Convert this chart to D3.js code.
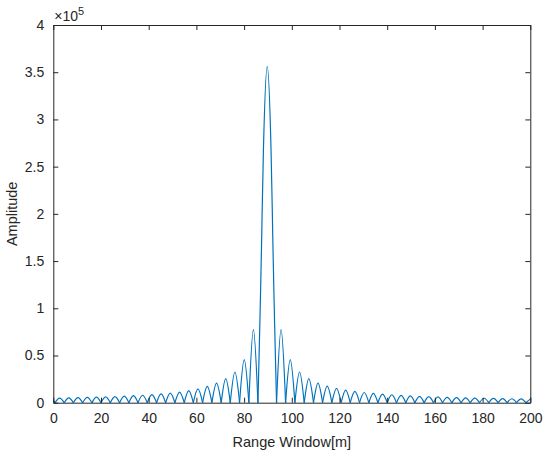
<!DOCTYPE html>
<html lang="en">
<head>
<meta charset="UTF-8">
<title>Range profile</title>
<script src="https://cdn.jsdelivr.net/npm/d3@7"></script>
<style>
    body { margin: 0; background: #fff; }
    text { font-family: "Liberation Sans", Arial, sans-serif; fill: #262626; }
</style>
</head>
<body>
<script>

    var width = 550;
    var height = 456;

    // zero crossings of the range profile [m]
    var nullsX = [0.7, 4.6, 8.4, 12.3, 16.2, 20.0, 23.9, 27.8, 31.7, 35.5, 39.4, 43.3,
        47.1, 51.0, 54.9, 58.7, 62.6, 66.5, 70.4, 74.2, 78.1, 82.0, 85.8,
        93.6, 97.4, 101.3, 105.2, 109.1, 112.9, 116.8, 120.7, 124.5, 128.4,
        132.3, 136.1, 140.0, 143.9, 147.8, 151.6, 155.5, 159.4, 163.2, 167.1,
        171.0, 174.8, 178.7, 182.6, 186.5, 190.3, 194.2, 198.1];

    // height of each lobe between two zero crossings (left to right)
    var lobePeaks = [4900, 5100, 5300, 5600, 5900, 6200, 6500, 6900, 7400, 7900, 8500,
        9300, 10200, 11300, 12700, 14600, 17200, 20800, 25500, 32500, 45700, 77300,
        356000,
        77300, 45700, 32500, 25500, 20800, 17500, 15100, 13400, 11900, 10800,
        9800, 9000, 8400, 7800, 7200, 6800, 6400, 6100, 5700, 5400, 5200,
        4900, 4700, 4500, 4300, 4200, 4000];

    // main lobe shoulders [m, amplitude]
    var mainX = [86.6, 87.4, 88.1, 91.3, 92.0, 92.8];
    var mainY = [83000, 178000, 267000, 267000, 178000, 83000];

    // partial lobes at both ends of the window
    var edgeX = [0, 200];
    var edgeY = [2500, 3800];

    var yTicks = [0, 50000, 100000, 150000, 200000, 250000, 300000, 350000, 400000];
    var xTicks = [0, 20, 40, 60, 80, 100, 120, 140, 160, 180, 200];

    var margin = {top: 25, right: 19.7, bottom: 53.3, left: 53.3};
    var w = width - margin.left - margin.right;
    var h = height - margin.top - margin.bottom;

    var xScale = d3.scaleLinear().domain([0, 200]).range([0, w]);
    var yScale = d3.scaleLinear().domain([0, 400000]).range([h, 0]);

    var svg = d3.select("body").append("svg")
        .attr("width", width)
        .attr("height", height);

    var g = svg.append("g")
        .attr("transform", "translate(" + margin.left + "," + margin.top + ")");

    // build one point list per lobe
    var lobes = [];
    lobes.push([[edgeX[0], edgeY[0]], [nullsX[0], 0]]);
    for (var i = 0; i < nullsX.length - 1; i++) {
        var a = nullsX[i], b = nullsX[i + 1];
        var pts = [[a, 0]];
        if (lobePeaks[i] > 300000) {
            pts.push([mainX[0], mainY[0]], [mainX[1], mainY[1]], [mainX[2], mainY[2]]);
            pts.push([(a + b) / 2, lobePeaks[i]]);
            pts.push([mainX[3], mainY[3]], [mainX[4], mainY[4]], [mainX[5], mainY[5]]);
        } else {
            pts.push([(a + b) / 2, lobePeaks[i]]);
        }
        pts.push([b, 0]);
        lobes.push(pts);
    }
    lobes.push([[nullsX[nullsX.length - 1], 0], [(nullsX[nullsX.length - 1] + 200) / 2 + 0.9, edgeY[1]], [edgeX[1], edgeY[1] * 0.98]]);

    var lineFunction = d3.line()
        .x(function (d) { return xScale(d[0]); })
        .y(function (d) { return yScale(d[1]); })
        .curve(d3.curveNatural);

    var plot = g.append("g");
    plot.selectAll("path")
        .data(lobes)
        .enter().append("path")
        .attr("d", lineFunction)
        .attr("fill", "none")
        .attr("stroke", "#0072BD")
        .attr("stroke-width", 1.2);

    // axes, MATLAB-like box with inward ticks
    var fmtY = function (d) { return d3.format("~g")(d / 100000); };

    var xAxis = g.append("g")
        .attr("transform", "translate(0," + h + ")")
        .call(d3.axisBottom(xScale).tickValues(xTicks).tickSizeInner(-5).tickSizeOuter(0).tickPadding(10));
    var xTop = g.append("g")
        .call(d3.axisTop(xScale).tickValues(xTicks).tickSizeInner(-5).tickSizeOuter(0).tickFormat(""));
    var yAxis = g.append("g")
        .call(d3.axisLeft(yScale).tickValues(yTicks).tickSizeInner(-5).tickSizeOuter(0).tickPadding(9).tickFormat(fmtY));
    var yRight = g.append("g")
        .attr("transform", "translate(" + w + ",0)")
        .call(d3.axisRight(yScale).tickValues(yTicks).tickSizeInner(-5).tickSizeOuter(0).tickFormat(""));

    g.selectAll(".domain").attr("stroke", "#262626").attr("stroke-width", 1);
    g.selectAll(".tick line").attr("stroke", "#262626");
    g.selectAll(".tick text").style("font-size", "14px").attr("fill", "#262626");

    // exponent label
    var expo = g.append("text")
        .attr("x", 1)
        .attr("y", -4)
        .style("font-size", "14px");
    expo.append("tspan").text("\u00d710");
    expo.append("tspan").attr("dy", -6).style("font-size", "11px").text("5");

    g.append("text")
        .attr("x", w / 2)
        .attr("y", h + 44)
        .attr("text-anchor", "middle")
        .style("font-size", "14.5px")
        .text("Range Window[m]");

    g.append("text")
        .attr("transform", "translate(-36," + (h / 2) + ") rotate(-90)")
        .attr("text-anchor", "middle")
        .style("font-size", "14.5px")
        .text("Amplitude");

</script>
</body>
</html>
